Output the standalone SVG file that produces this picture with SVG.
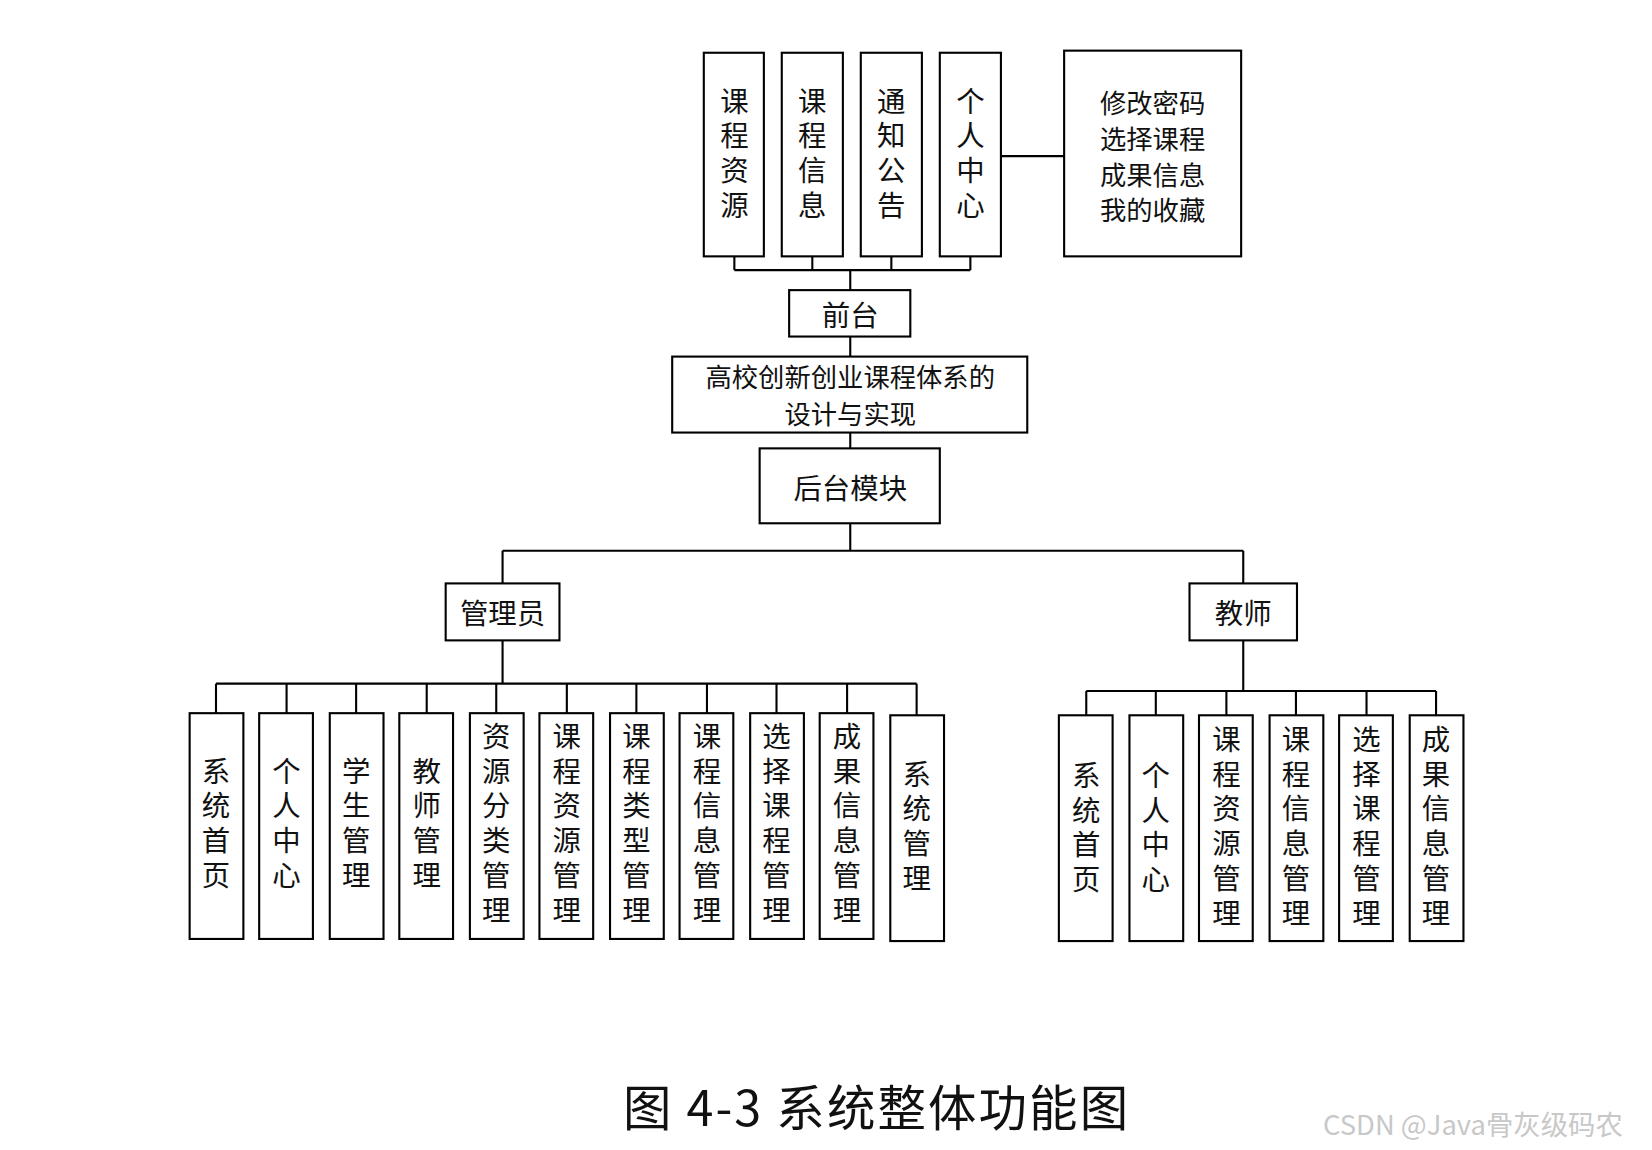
<svg xmlns="http://www.w3.org/2000/svg" width="1652" height="1150" viewBox="0 0 1652 1150">
<style>
rect{fill:#fff;stroke:#000;stroke-width:2}
text{font-family:"Noto Sans CJK SC","Liberation Serif",serif;font-size:27px;fill:#111;text-anchor:middle;dominant-baseline:central}
text.v{writing-mode:vertical-rl;letter-spacing:6px}
text.m{font-size:25px}
.c line{stroke:#000;stroke-width:2}
</style>
<rect x="0" y="0" width="1652" height="1150" style="fill:#fff;stroke:none"/>
<g transform="scale(1.0536 1.055)">
<g class="c">
<line x1="950" y1="148" x2="1010" y2="148"/>
<line x1="697" y1="243" x2="697" y2="256"/><line x1="771" y1="243" x2="771" y2="256"/><line x1="846" y1="243" x2="846" y2="256"/><line x1="921" y1="243" x2="921" y2="256"/>
<line x1="697" y1="256" x2="921" y2="256"/><line x1="807" y1="256" x2="807" y2="275"/>
<line x1="807" y1="319" x2="807" y2="338"/><line x1="807" y1="410" x2="807" y2="425"/>
<line x1="807" y1="496" x2="807" y2="522"/><line x1="477" y1="522" x2="1180" y2="522"/>
<line x1="477" y1="522" x2="477" y2="553"/><line x1="1180" y1="522" x2="1180" y2="553"/>
<line x1="477" y1="607" x2="477" y2="648"/><line x1="205" y1="648" x2="870" y2="648"/>
<line x1="205" y1="648" x2="205" y2="676"/><line x1="272" y1="648" x2="272" y2="676"/><line x1="338" y1="648" x2="338" y2="676"/><line x1="405" y1="648" x2="405" y2="676"/><line x1="471" y1="648" x2="471" y2="676"/><line x1="538" y1="648" x2="538" y2="676"/><line x1="604" y1="648" x2="604" y2="676"/><line x1="671" y1="648" x2="671" y2="676"/><line x1="737" y1="648" x2="737" y2="676"/><line x1="804" y1="648" x2="804" y2="676"/><line x1="870" y1="648" x2="870" y2="678"/>
<line x1="1180" y1="607" x2="1180" y2="655"/><line x1="1031" y1="655" x2="1363" y2="655"/>
<line x1="1031" y1="655" x2="1031" y2="678"/><line x1="1097" y1="655" x2="1097" y2="678"/><line x1="1164" y1="655" x2="1164" y2="678"/><line x1="1230" y1="655" x2="1230" y2="678"/><line x1="1297" y1="655" x2="1297" y2="678"/><line x1="1363" y1="655" x2="1363" y2="678"/>
</g>
<g id="f1"><rect x="668" y="50" width="57" height="193"/><text class="v" x="697" y="148">课程资源</text></g>
<g id="f2"><rect x="742" y="50" width="58" height="193"/><text class="v" x="771" y="148">课程信息</text></g>
<g id="f3"><rect x="817" y="50" width="58" height="193"/><text class="v" x="846" y="148">通知公告</text></g>
<g id="f4"><rect x="892" y="50" width="58" height="193"/><text class="v" x="921" y="148">个人中心</text></g>
<g id="f5"><rect x="1010" y="48" width="168" height="195"/><text class="m" x="1094" y="96">修改密码</text><text class="m" x="1094" y="130">选择课程</text><text class="m" x="1094" y="164">成果信息</text><text class="m" x="1094" y="198">我的收藏</text></g>
<g id="front"><rect x="749" y="275" width="115" height="44"/><text x="807" y="297">前台</text></g>
<g id="title"><rect x="638" y="338" width="337" height="72"/><text class="m" x="807" y="356">高校创新创业课程体系的</text><text class="m" x="807" y="391">设计与实现</text></g>
<g id="back"><rect x="721" y="425" width="171" height="71"/><text x="807" y="461">后台模块</text></g>
<g id="admin"><rect x="423" y="553" width="108" height="54"/><text x="477" y="580">管理员</text></g>
<g id="teacher"><rect x="1129" y="553" width="102" height="54"/><text x="1180" y="580">教师</text></g>
<g id="a1"><rect x="180" y="676" width="51" height="214"/><text class="v" x="205" y="783">系统首页</text></g>
<g id="a2"><rect x="246" y="676" width="51" height="214"/><text class="v" x="272" y="783">个人中心</text></g>
<g id="a3"><rect x="313" y="676" width="51" height="214"/><text class="v" x="338" y="783">学生管理</text></g>
<g id="a4"><rect x="379" y="676" width="51" height="214"/><text class="v" x="405" y="783">教师管理</text></g>
<g id="a5"><rect x="446" y="676" width="51" height="214"/><text class="v" x="471" y="783">资源分类管理</text></g>
<g id="a6"><rect x="512" y="676" width="51" height="214"/><text class="v" x="538" y="783">课程资源管理</text></g>
<g id="a7"><rect x="579" y="676" width="51" height="214"/><text class="v" x="604" y="783">课程类型管理</text></g>
<g id="a8"><rect x="645" y="676" width="51" height="214"/><text class="v" x="671" y="783">课程信息管理</text></g>
<g id="a9"><rect x="712" y="676" width="51" height="214"/><text class="v" x="737" y="783">选择课程管理</text></g>
<g id="a10"><rect x="778" y="676" width="51" height="214"/><text class="v" x="804" y="783">成果信息管理</text></g>
<g id="a11"><rect x="845" y="678" width="51" height="214"/><text class="v" x="870" y="786">系统管理</text></g>
<g id="t1"><rect x="1005" y="678" width="51" height="214"/><text class="v" x="1031" y="787">系统首页</text></g>
<g id="t2"><rect x="1072" y="678" width="51" height="214"/><text class="v" x="1097" y="787">个人中心</text></g>
<g id="t3"><rect x="1138" y="678" width="51" height="214"/><text class="v" x="1164" y="786">课程资源管理</text></g>
<g id="t4"><rect x="1205" y="678" width="51" height="214"/><text class="v" x="1230" y="786">课程信息管理</text></g>
<g id="t5"><rect x="1271" y="678" width="51" height="214"/><text class="v" x="1297" y="786">选择课程管理</text></g>
<g id="t6"><rect x="1338" y="678" width="51" height="214"/><text class="v" x="1363" y="786">成果信息管理</text></g>
<text x="832" y="1047" style="font-size:46px;letter-spacing:2px">图 4-3  系统整体功能图</text>
<text x="1398" y="1064" style="font-size:26px;fill:#c8c8c8">CSDN @Java骨灰级码农</text>
</g>
</svg>
